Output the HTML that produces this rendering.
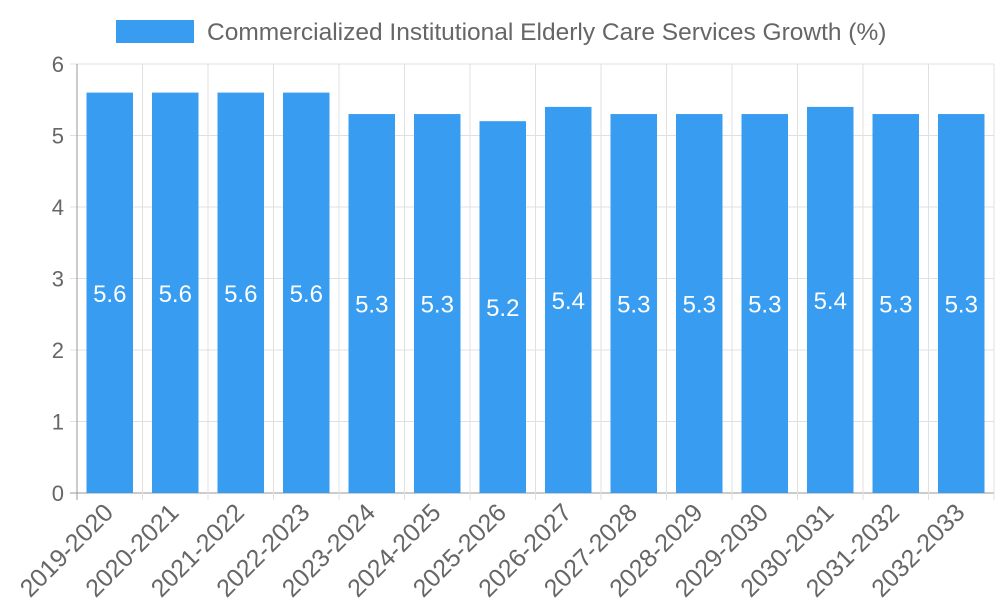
<!DOCTYPE html>
<html><head><meta charset="utf-8"><style>
body{margin:0;background:#fff;font-family:"Liberation Sans",sans-serif;}
svg{display:block}
</style></head><body>
<svg id="chart" width="1000" height="600">
<g>
<rect x="116" y="20" width="78" height="23" fill="#389cf0"/>
<text x="207" y="40" font-size="24.5" fill="#666">Commercialized Institutional Elderly Care Services Growth (%)</text>
</g>
<g id="grid"></g><g id="bars"></g><g id="labels"></g>
</svg>
<script>
const categories=["2019-2020","2020-2021","2021-2022","2022-2023","2023-2024","2024-2025","2025-2026","2026-2027","2027-2028","2028-2029","2029-2030","2030-2031","2031-2032","2032-2033"];
const values=[5.6,5.6,5.6,5.6,5.3,5.3,5.2,5.4,5.3,5.3,5.3,5.4,5.3,5.3];
const yTicks=[0,1,2,3,4,5,6];
const L=77,R=994,T=64,B=493,yMax=6;
const bw=(R-L)/categories.length;
const y=v=>B-(v/yMax)*(B-T);
const x=i=>L+i*bw;
const ns="http://www.w3.org/2000/svg";
function mk(p,t,a){const e=document.createElementNS(ns,t);for(const k in a)e.setAttribute(k,a[k]);p.appendChild(e);return e;}
const g=document.getElementById('grid'),bg=document.getElementById('bars'),lg=document.getElementById('labels');
yTicks.forEach(t=>{
 const l=mk(g,'line',{x1:L-7,x2:R,y1:y(t),y2:y(t),stroke:t===0?'#999':'#e0e0e0','stroke-width':1});
 
 
 const tx=mk(g,'text',{x:L-13,y:y(t)+8,'font-size':22,fill:'#666','text-anchor':'end'});
 tx.textContent=t;
 
 
});
for(let i=0;i<=categories.length;i++){
 const l=mk(g,'line',{x1:x(i),x2:x(i),y1:T,y2:B+7,stroke:i===0?'#999':'#e0e0e0','stroke-width':1});
 
 
}
categories.forEach((c,i)=>{
 const cx=x(i)+bw/2,w=bw*0.71;
 const r=mk(bg,'rect',{x:cx-w/2,y:y(values[i]),width:w,height:B-y(values[i]),fill:'#389cf0'});
 
 
 const v=mk(lg,'text',{x:cx,y:(y(values[i])+B)/2+9,'font-size':24,fill:'#fff','text-anchor':'middle'});
 v.textContent=values[i];
 
 
 const t=mk(lg,'text',{x:cx+5,y:B+21,'font-size':25,fill:'#666','text-anchor':'end',transform:`rotate(-45 ${cx+5} ${B+21})`});
 t.textContent=c;
 
 
});
</script>
</body></html>
